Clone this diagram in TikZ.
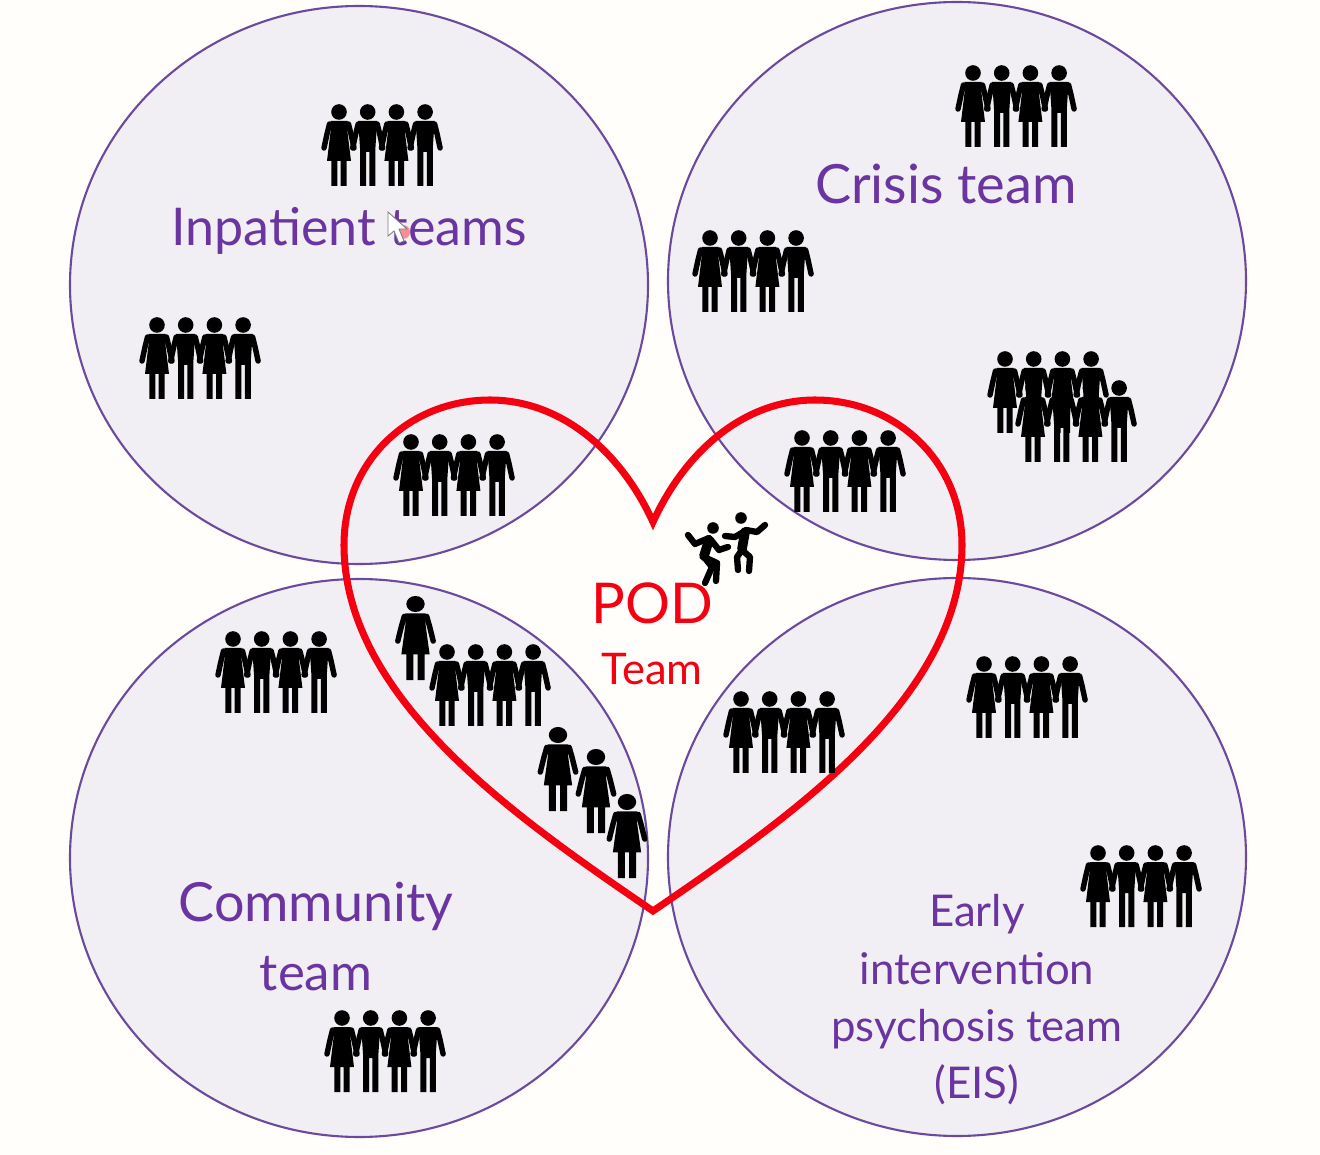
\documentclass[tikz,border=0pt]{standalone}
\usepackage{fontspec}
\setmainfont{Lato}
\definecolor{teampurple}{HTML}{6A35A0}
\definecolor{podred}{HTML}{F40010}
\definecolor{circleline}{HTML}{6B4A9E}
\definecolor{circlefill}{HTML}{F1EFF4}
\definecolor{pagecolor}{HTML}{FFFEFB}
\tikzset{
    teamcircle/.style={draw=circleline, line width=1.2pt, fill=circlefill},
    teamlabel/.style={anchor=base, text=teampurple, inner sep=0pt},
    podlabel/.style={anchor=base, text=podred, inner sep=0pt},
    limb/.style={line width=3.1pt, line cap=round, line join=round},
    danceline/.style={line width=3.6pt, line cap=round, line join=round},
    woman/.pic={
        \fill (0,0) circle [radius=7.8];
        \fill (-8.5,9) -- (8.5,9) -- (8.5,20) -- (12,49) -- (7.7,49) -- (7.7,74) -- (1.7,74) -- (1.7,49) -- (-1.7,49) -- (-1.7,74) -- (-7.7,74) -- (-7.7,49) -- (-12,49) -- (-8.5,20) -- cycle;
        \draw[limb] (-9.5,12) -- (-12,22) -- (-15,36);
        \draw[limb] (9.5,12) -- (12,22) -- (15,36);
    },
    man/.pic={
        \fill (0,0) circle [radius=7.8];
        \fill (-9.5,9) -- (9.5,9) -- (7.7,36) -- (7.7,74) -- (1.7,74) -- (1.7,40) -- (-1.7,40) -- (-1.7,74) -- (-7.7,74) -- (-7.7,36) -- cycle;
        \draw[limb] (-9.5,12) -- (-12,22) -- (-15,36);
        \draw[limb] (9.5,12) -- (12,22) -- (15,36);
    },
    fourgroup/.pic={
        \pic at (0,0) {woman};
        \pic at (28.7,0) {man};
        \pic at (57.4,0) {woman};
        \pic at (86.1,0) {man};
    },
}
\begin{document}
\begin{tikzpicture}[x=0.02cm, y=-0.02cm]
    \useasboundingbox (0,0) rectangle (1320,1155);
    \fill[pagecolor] (0,0) rectangle (1320,1155);

    % four teams
    \draw[teamcircle] (359,285) ellipse [x radius=289, y radius=279];
    \draw[teamcircle] (957,281) ellipse [x radius=289, y radius=279];
    \draw[teamcircle] (359,858) ellipse [x radius=289, y radius=279];
    \draw[teamcircle] (957,857) ellipse [x radius=289, y radius=279];

    % heart
    \draw[podred, line width=4pt, line join=miter] (653,911) .. controls (520,820) and (344,700) .. (344,545)
        .. controls (344,460) and (410,400) .. (490,400)
        .. controls (560,400) and (620,450) .. (653,522)
        .. controls (686,450) and (745,400) .. (815,400)
        .. controls (895,400) and (962,460) .. (962,545)
        .. controls (962,700) and (786,820) .. (653,911) -- cycle;

    % people
    \foreach \x/\y in {339/112, 157/325, 411/442, 973/73, 710/238, 802/438, 233/639, 342/1018, 447/652, 741/699, 984/664, 1098/853, 1005/359, 1033/388}
        \pic at (\x,\y) {fourgroup};
    \foreach \x/\y in {415.5/604, 558/735, 596/757, 627/802}
        \pic[xscale=1.18, yscale=1.03] at (\x,\y) {woman};

    % dancers
    \fill (713,528) circle [radius=5.8];
    \draw[line width=5.5pt, line cap=round] (709,540) -- (704,556);
    \draw[danceline] (709,538) -- (695,544) -- (688,535);
    \draw[danceline] (711,540) -- (719,550) -- (728,547);
    \draw[danceline] (704,557) -- (712,567) -- (705,583);
    \draw[danceline] (704,557) -- (717,563) -- (716,581);
    \fill (741,518) circle [radius=5.8];
    \draw[line width=5.5pt, line cap=round] (745,532) -- (742,549);
    \draw[danceline] (745,531) -- (735,537) -- (725,536);
    \draw[danceline] (746,530) -- (757,532) -- (765,525);
    \draw[danceline] (742,550) -- (737,557) -- (738,570);
    \draw[danceline] (742,550) -- (750,557) -- (749,571);

    % labels
    \node[teamlabel, font=\fontsize{29.6}{30}\selectfont] (inpatient) at (349,246) {Inpatient teams};
    \node[teamlabel, font=\fontsize{30.8}{31}\selectfont] (crisis) at (946,204) {Crisis team};
    \node[teamlabel, font=\fontsize{30.7}{31}\selectfont] (community) at (316,921) {Community};
    \node[teamlabel, font=\fontsize{29}{29}\selectfont] (communityb) at (316,990) {team};
    \node[teamlabel, font=\fontsize{24.9}{25}\selectfont] (early) at (977,927) {Early};
    \node[teamlabel, font=\fontsize{24.9}{25}\selectfont] (interv) at (977,984) {intervention};
    \node[teamlabel, font=\fontsize{24.9}{25}\selectfont] (psych) at (977,1041) {psychosis team};
    \node[teamlabel, font=\fontsize{24.9}{25}\selectfont] (eis) at (977,1098) {(EIS)};
    \node[podlabel, font=\fontsize{32}{32}\selectfont] (pod) at (652,624) {POD};
    \node[podlabel, font=\fontsize{24.8}{25}\selectfont] (podteam) at (652,685) {Team};

    % mouse pointer
    \fill[red!70, opacity=0.6] (403,232) circle [radius=7];
    \draw[gray, fill=white, line width=0.5pt] (388,212) -- (388,236) -- (394,231) -- (399,243) -- (404,241) -- (399,229) -- (407,229) -- cycle;
\end{tikzpicture}
\end{document}
